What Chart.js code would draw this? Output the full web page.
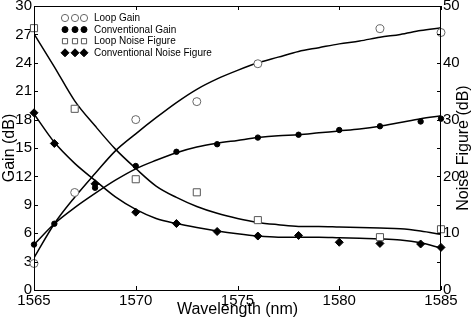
<!DOCTYPE html>
<html>
<head>
<meta charset="utf-8">
<script src="https://cdn.jsdelivr.net/npm/chart.js@4/dist/chart.umd.min.js"></script>
<style>
    html, body { margin: 0; padding: 0; background: #fff; }
    #wrap { width: 474px; height: 322px; }
</style>
</head>
<body>
<div id="wrap"><canvas id="gain-chart"></canvas></div>
<script>
const FONT = 'Arial, "Liberation Sans", sans-serif';

// measured points, loop amplifier
const loopWl = [1565, 1567, 1570, 1573, 1576, 1582, 1585];
const loopGain = [2.8, 10.3, 18.0, 19.9, 23.9, 27.6, 27.2];
const loopNoise = [46.1, 31.9, 19.5, 17.2, 12.3, 9.3, 10.7];

// measured points, conventional amplifier
const convWl = [1565, 1566, 1568, 1570, 1572, 1574, 1576, 1578, 1580, 1582, 1584, 1585];
const convGain = [4.8, 7.0, 10.8, 13.1, 14.6, 15.4, 16.1, 16.4, 16.9, 17.3, 17.8, 18.1];
const convNoise = [31.2, 25.8, 18.7, 13.7, 11.7, 10.3, 9.5, 9.6, 8.4, 8.2, 8.1, 7.5];

const fitWl = [1565, 1566, 1567, 1568, 1569, 1570, 1571, 1572, 1573, 1574, 1575,
               1576, 1577, 1578, 1579, 1580, 1581, 1582, 1583, 1584, 1585];
const loopGainFit = [3.4, 7.0, 9.8, 12.3, 14.7, 16.5, 18.2, 19.8, 21.2, 22.3, 23.2,
                     24.0, 24.6, 25.2, 25.6, 26.0, 26.3, 26.7, 27.0, 27.4, 27.7];
const convGainFit = [4.8, 7.0, 8.7, 10.2, 11.6, 12.8, 13.7, 14.5, 15.1, 15.5, 15.8,
                     16.1, 16.3, 16.4, 16.6, 16.8, 17.0, 17.3, 17.7, 18.1, 18.4];
const loopNoiseFit = [45.1, 39.3, 33.3, 28.9, 24.8, 21.4, 18.3, 16.3, 14.7, 13.5, 12.6,
                      11.9, 11.5, 11.2, 11.2, 11.1, 11.0, 10.9, 10.8, 10.4, 9.8];
const convNoiseFit = [31.0, 26.0, 22.3, 19.3, 16.4, 14.2, 12.6, 11.7, 11.0, 10.4, 9.9,
                      9.5, 9.3, 9.3, 9.3, 9.2, 9.1, 9.0, 8.8, 8.3, 7.4];

// tick values
const wlTicks = [1565, 1570, 1575, 1580, 1585];
const gainTicks = [0, 3, 6, 9, 12, 15, 18, 21, 24, 27, 30];
const noiseTicks = [0, 5, 10, 15, 20, 25, 30, 35, 40, 45, 50];

const xy = (xs, ys) => xs.map((x, i) => ({ x: x, y: ys[i] }));

function pointSet(label, xs, ys, axis, style, radius, fill, stroke) {
    return {
        label: label,
        data: xy(xs, ys),
        yAxisID: axis,
        showLine: false,
        pointStyle: style,
        pointRadius: radius,
        pointBackgroundColor: fill,
        pointBorderColor: stroke,
        pointBorderWidth: 1,
        clip: false,
        inLegend: true
    };
}

function fitSet(ys, axis) {
    return {
        data: xy(fitWl, ys),
        yAxisID: axis,
        showLine: true,
        borderColor: '#000',
        borderWidth: 1.5,
        pointRadius: 0,
        cubicInterpolationMode: 'monotone',
        fill: false
    };
}

function drawMarker(ctx, style, x, y, r, fill, stroke) {
    ctx.beginPath();
    if (style === 'circle') {
        ctx.arc(x, y, r, 0, Math.PI * 2);
    } else if (style === 'rect') {
        ctx.rect(x - r * 0.72, y - r * 0.72, r * 1.44, r * 1.44);
    } else {
        ctx.moveTo(x, y - r);
        ctx.lineTo(x + r, y);
        ctx.lineTo(x, y + r);
        ctx.lineTo(x - r, y);
        ctx.closePath();
    }
    ctx.fillStyle = fill;
    ctx.fill();
    ctx.strokeStyle = stroke;
    ctx.lineWidth = 1;
    ctx.stroke();
}

// box, inward ticks, axis titles and the three-marker legend
const framePlugin = {
    id: 'frame',
    afterDraw(chart) {
        const { ctx, chartArea: a, scales } = chart;
        ctx.save();
        ctx.strokeStyle = '#000';
        ctx.lineWidth = 1;
        ctx.strokeRect(a.left + 0.5, a.top + 0.5, a.right - a.left - 1, a.bottom - a.top);

        ctx.beginPath();
        scales.x.ticks.forEach(t => {
            const px = Math.round(scales.x.getPixelForValue(t.value)) + 0.5;
            ctx.moveTo(px, a.bottom); ctx.lineTo(px, a.bottom - 4);
            ctx.moveTo(px, a.top); ctx.lineTo(px, a.top + 4);
        });
        scales.y.ticks.forEach(t => {
            const py = Math.round(scales.y.getPixelForValue(t.value)) + 0.5;
            ctx.moveTo(a.left, py); ctx.lineTo(a.left + 4, py);
        });
        scales.y1.ticks.forEach(t => {
            const py = Math.round(scales.y1.getPixelForValue(t.value)) + 0.5;
            ctx.moveTo(a.right, py); ctx.lineTo(a.right - 4, py);
        });
        ctx.stroke();

        ctx.fillStyle = '#000';
        ctx.font = '16px ' + FONT;
        ctx.textAlign = 'center';
        ctx.textBaseline = 'middle';
        const midY = (a.top + a.bottom) / 2;
        ctx.fillText('Wavelength (nm)', (a.left + a.right) / 2, 310);
        ctx.save();
        ctx.translate(10, midY);
        ctx.rotate(-Math.PI / 2);
        ctx.fillText('Gain (dB)', 0, 0);
        ctx.restore();
        ctx.save();
        ctx.translate(464, midY);
        ctx.rotate(-Math.PI / 2);
        ctx.fillText('Noise Figure (dB)', 0, 0);
        ctx.restore();

        // legend
        ctx.font = '10px ' + FONT;
        ctx.textAlign = 'left';
        let row = 0;
        chart.data.datasets.forEach(ds => {
            if (!ds.inLegend) return;
            const y = 18 + row * 11.6;
            let r = 3.6;
            if (ds.pointStyle === 'rectRot') r = 4;
            else if (ds.pointStyle === 'circle' && ds.pointBackgroundColor === '#000') r = 3;
            [65, 75, 84].forEach(x => drawMarker(ctx, ds.pointStyle, x, y, r,
                ds.pointBackgroundColor, ds.pointBorderColor));
            ctx.fillStyle = '#000';
            ctx.fillText(ds.label, 94, y + 0.5);
            row++;
        });
        ctx.restore();
    }
};

const tickFont = { family: FONT, size: 15 };

new Chart(document.getElementById('gain-chart').getContext('2d'), {
    type: 'scatter',
    data: {
        datasets: [
            pointSet('Loop Gain', loopWl, loopGain, 'y', 'circle', 4, '#fff', '#666'),
            pointSet('Conventional Gain', convWl, convGain, 'y', 'circle', 2.7, '#000', '#000'),
            pointSet('Loop Noise Figure', loopWl, loopNoise, 'y1', 'rect', 5, '#fff', '#555'),
            pointSet('Conventional Noise Figure', convWl, convNoise, 'y1', 'rectRot', 4, '#000', '#000'),
            fitSet(loopGainFit, 'y'),
            fitSet(convGainFit, 'y'),
            fitSet(loopNoiseFit, 'y1'),
            fitSet(convNoiseFit, 'y1')
        ]
    },
    options: {
        responsive: true,
        maintainAspectRatio: false,
        animation: false,
        layout: { padding: { top: 6, left: 0, right: 0, bottom: 0 } },
        scales: {
            x: {
                type: 'linear',
                min: 1565,
                max: 1585,
                afterBuildTicks: s => { s.ticks = wlTicks.map(v => ({ value: v })); },
                afterFit: s => { s.height = 32; s.paddingLeft = 0; s.paddingRight = 0; },
                grid: { display: false, drawTicks: false },
                border: { display: false },
                ticks: { color: '#000', font: tickFont, padding: 2, maxRotation: 0,
                         callback: v => String(v) }
            },
            y: {
                position: 'left',
                min: 0,
                max: 30,
                afterBuildTicks: s => { s.ticks = gainTicks.map(v => ({ value: v })); },
                afterFit: s => { s.width = 34; s.paddingTop = 0; s.paddingBottom = 0; },
                grid: { display: false, drawTicks: false },
                border: { display: false },
                ticks: { color: '#000', font: tickFont, padding: 2 }
            },
            y1: {
                position: 'right',
                min: 0,
                max: 50,
                afterBuildTicks: s => { s.ticks = noiseTicks.map(v => ({ value: v })); },
                afterFit: s => { s.width = 33; s.paddingTop = 0; s.paddingBottom = 0; },
                grid: { display: false, drawTicks: false },
                border: { display: false },
                ticks: { color: '#000', font: tickFont, padding: 2,
                         callback: v => (v % 10 === 0 ? String(v) : '') }
            }
        },
        plugins: {
            legend: { display: false },
            tooltip: { enabled: false }
        }
    },
    plugins: [framePlugin]
});
</script>
</body>
</html>
